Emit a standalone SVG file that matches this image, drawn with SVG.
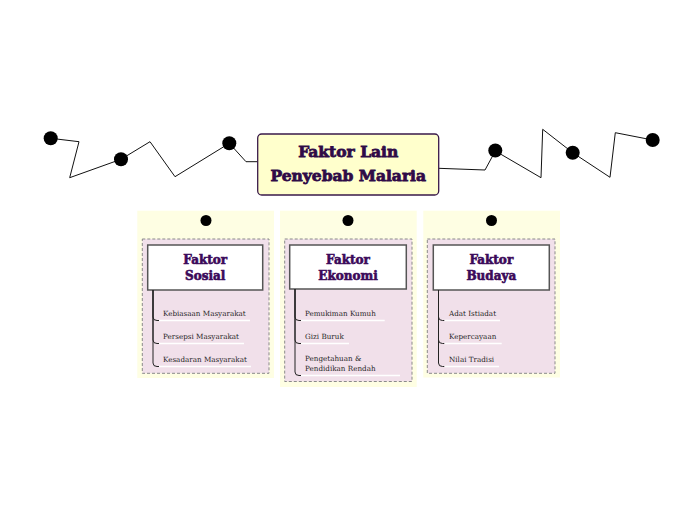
<svg xmlns="http://www.w3.org/2000/svg" width="697" height="520" viewBox="0 0 697 520">
<style>
.bg{fill:#ffffff}
.panel{fill:#fefee3}
.dash{fill:#f1e0ea;stroke:#8a8a8a;stroke-width:1;stroke-dasharray:3,2}
.head{fill:#ffffff;stroke:#555555;stroke-width:1.5}
.ht{font-family:"DejaVu Serif",serif;font-weight:bold;font-size:12px;fill:#3b0a5a;stroke:#3b0a5a;stroke-width:0.6;text-anchor:middle}
.tt{font-family:"DejaVu Serif",serif;font-weight:bold;font-size:15.5px;fill:#2f0b47;stroke:#2f0b47;stroke-width:0.8;text-anchor:middle}
.it{font-family:"DejaVu Serif",serif;font-size:7.2px;fill:#1e1e1e}
.ul{stroke:#ffffff;stroke-width:1.5;fill:none}
.br{stroke:#222222;stroke-width:1;fill:none}
.ln{stroke:#111111;stroke-width:1;fill:none}
.dot{fill:#000000}
</style>
<rect class="bg" x="0" y="0" width="697" height="520"/>
<g id="connectors">
<polyline class="ln" points="50.7,138.3 79,141.7 69.7,177.7 121,159.3 150,141.7 175,176.7 229.3,143.3 246,161.7 257.7,161.7"/>
<polyline class="ln" points="438.7,168.3 485,170 495.3,151 541,177.7 542.7,129.3 572.7,152.7 610,177.3 615.3,132.7 652.7,140"/>
</g>
<g id="dots">
<circle class="dot" cx="50.7" cy="138.3" r="7"/>
<circle class="dot" cx="121" cy="159.3" r="7"/>
<circle class="dot" cx="229.3" cy="143.3" r="7"/>
<circle class="dot" cx="495.3" cy="150.5" r="7"/>
<circle class="dot" cx="572.7" cy="152.7" r="7"/>
<circle class="dot" cx="652.7" cy="140" r="7"/>
</g>
<g id="central">
<rect x="257.7" y="134" width="181" height="61" rx="4" fill="#ffffcc" stroke="#3a1a4a" stroke-width="1.3"/>
<text class="tt" x="348.2" y="157">Faktor Lain</text>
<text class="tt" x="348.2" y="181">Penyebab Malaria</text>
</g>
<g id="sosial">
<rect class="panel" x="137.3" y="210.7" width="136.7" height="167.3"/>
<circle class="dot" cx="206" cy="220.5" r="5.5"/>
<rect class="dash" x="142.3" y="239" width="126.7" height="134.3"/>
<rect class="head" x="147.7" y="245" width="115" height="45"/>
<text class="ht" x="205.2" y="263.5">Faktor</text>
<text class="ht" x="205.2" y="279.5">Sosial</text>
<path class="br" d="M153,290 V317 Q153,320.5 157,320.5 H159 M153,290 V340 Q153,343.5 157,343.5 H159 M153,290 V363 Q153,366.5 157,366.5 H159"/>
<line class="ul" x1="159" y1="320.5" x2="250" y2="320.5"/>
<line class="ul" x1="159" y1="343.5" x2="244" y2="343.5"/>
<line class="ul" x1="159" y1="366.5" x2="251" y2="366.5"/>
<text class="it" x="163" y="316">Kebiasaan Masyarakat</text>
<text class="it" x="163" y="339">Persepsi Masyarakat</text>
<text class="it" x="163" y="362">Kesadaran Masyarakat</text>
</g>
<g id="ekonomi">
<rect class="panel" x="280" y="210.7" width="136.7" height="176.3"/>
<circle class="dot" cx="348" cy="220.5" r="5.5"/>
<rect class="dash" x="284.7" y="239" width="127.3" height="142.5"/>
<rect class="head" x="289.7" y="245" width="116.6" height="44"/>
<text class="ht" x="348" y="263.5">Faktor</text>
<text class="ht" x="348" y="279.5">Ekonomi</text>
<path class="br" d="M295,289 V317 Q295,320.5 299,320.5 H301 M295,289 V340 Q295,343.5 299,343.5 H301 M295,289 V372 Q295,375.5 299,375.5 H301"/>
<line class="ul" x1="301" y1="320.5" x2="384.7" y2="320.5"/>
<line class="ul" x1="301" y1="343.5" x2="349" y2="343.5"/>
<line class="ul" x1="301" y1="375.5" x2="400" y2="375.5"/>
<text class="it" x="305" y="316">Pemukiman Kumuh</text>
<text class="it" x="305" y="339">Gizi Buruk</text>
<text class="it" x="305" y="361">Pengetahuan &amp;</text>
<text class="it" x="305" y="371">Pendidikan Rendah</text>
</g>
<g id="budaya">
<rect class="panel" x="423.3" y="210.7" width="136.7" height="166.8"/>
<circle class="dot" cx="491.5" cy="220.5" r="5.5"/>
<rect class="dash" x="427.3" y="239" width="127.7" height="134.3"/>
<rect class="head" x="433.3" y="245" width="116" height="45"/>
<text class="ht" x="491.3" y="263.5">Faktor</text>
<text class="ht" x="491.3" y="279.5">Budaya</text>
<path class="br" d="M438.5,290 V317 Q438.5,320.5 442.5,320.5 H444.5 M438.5,290 V340 Q438.5,343.5 442.5,343.5 H444.5 M438.5,290 V363 Q438.5,366.5 442.5,366.5 H444.5"/>
<line class="ul" x1="444.5" y1="320.5" x2="500" y2="320.5"/>
<line class="ul" x1="444.5" y1="343.5" x2="501.7" y2="343.5"/>
<line class="ul" x1="444.5" y1="366.5" x2="499" y2="366.5"/>
<text class="it" x="449" y="316">Adat Istiadat</text>
<text class="it" x="449" y="339">Kepercayaan</text>
<text class="it" x="449" y="362">Nilai Tradisi</text>
</g>
</svg>
